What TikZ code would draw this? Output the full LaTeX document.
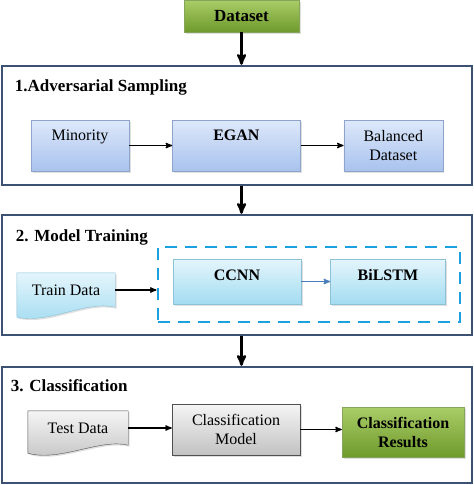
\documentclass[tikz,border=0pt]{standalone}
\usepackage{fontspec}
\setmainfont{Liberation Serif}
\usetikzlibrary{positioning}
\usetikzlibrary{arrows}
\usetikzlibrary{shadows}
\usetikzlibrary{backgrounds}

\definecolor{panelbd}{HTML}{3D5273}
\definecolor{bluetop}{HTML}{DDE8FA}
\definecolor{bluebot}{HTML}{A9C3EE}
\definecolor{bluebd}{HTML}{8EA4CA}
\definecolor{cyantop}{HTML}{E4F5FC}
\definecolor{cyanbot}{HTML}{A3DCF1}
\definecolor{cyanbd}{HTML}{8CC2D8}
\definecolor{graytop}{HTML}{F5F5F5}
\definecolor{graybot}{HTML}{C2C2C2}
\definecolor{graybd}{HTML}{505050}
\definecolor{greentop}{HTML}{AACD68}
\definecolor{greenbot}{HTML}{6E9A2B}
\definecolor{greenbd}{HTML}{86A55A}
\definecolor{dashblue}{HTML}{1BA1E2}
\definecolor{linkblue}{HTML}{4A7EBB}

\begin{document}
\begin{tikzpicture}[x=1pt,y=-1pt,>=stealth',
    shade box/.style={drop shadow={shadow xshift=1.5pt,shadow yshift=-1.5pt,opacity=0.25}},
    panel/.style={draw=panelbd,line width=2.5pt,minimum width=470pt},
    ttl/.style={anchor=west,inner sep=0pt,font=\fontsize{17}{20}\selectfont\bfseries},
    box/.style={shade box,draw=bluebd,top color=bluetop,bottom color=bluebot,
                minimum height=51pt,align=center,font=\fontsize{16}{19}\selectfont},
    cbox/.style={box,draw=cyanbd,top color=cyantop,bottom color=cyanbot,minimum height=45pt},
    gbox/.style={box,draw=graybd,top color=graytop,bottom color=graybot},
    resbox/.style={box,draw=greenbd,top color=greentop,bottom color=greenbot,
                font=\fontsize{16}{19}\selectfont\bfseries},
    docbox/.style={minimum height=34pt,font=\fontsize{16}{19}\selectfont},
    dashbox/.style={draw=dashblue,line width=2.8pt,dash pattern=on 12pt off 8pt},
    bigarrow/.style={->,line width=2.5pt},
    link/.style={->,line width=1.3pt}]

  \useasboundingbox (0,0) rectangle (474,485);
  \begin{scope}[on background layer]
    \fill[white] (0,0) rectangle (474,485);
  \end{scope}

  % input
  \node[resbox,minimum width=115pt,minimum height=32pt,font=\fontsize{17}{20}\selectfont\bfseries]
    (dataset) at (241.5,16) {Dataset};

  % the three stages
  \node[panel,minimum height=119pt] (adv) at (237,125.5) {};
  \node[panel,minimum height=120pt] (train) at (237,275) {};
  \node[panel,minimum height=116pt] (cls) at (237,425) {};
  \node[ttl] (advtitle) at ([xshift=14pt,yshift=-23pt]adv.north west) {1.Adversarial Sampling};
  \node[ttl] (traintitle) at ([xshift=15pt,yshift=-24pt]train.north west) {2. Model Training};
  \node[ttl] (clstitle) at ([xshift=10pt,yshift=-20pt]cls.north west) {3. Classification};

  % stage 1
  \node[box,minimum width=98pt,text depth=20pt] (minority) at (80,145.5) {Minority};
  \node[box,minimum width=128pt,text depth=20pt,right=43pt of minority] (egan) {\bfseries EGAN};
  \node[box,minimum width=99pt,right=43pt of egan] (balanced) {Balanced\\Dataset};

  % stage 2
  \node[docbox,minimum width=98pt] (traindata) at (66,290) {Train Data};
  \node[dashbox,minimum width=302pt,minimum height=75pt] (trainmodel) at (309,284.5) {};
  \node[cbox,minimum width=128pt,text depth=13pt] (ccnn) at (237,281.5) {\bfseries CCNN};
  \node[cbox,minimum width=115pt,text depth=13pt,right=29pt of ccnn] (bilstm) {\bfseries BiLSTM};

  % stage 3
  \node[docbox,minimum width=100pt] (testdata) at (78,428) {Test Data};
  \node[gbox,minimum width=128pt] (clsmodel) at (236,429.5) {Classification\\Model};
  \node[resbox,minimum width=122pt,minimum height=50pt] (results) at (403,432) {Classification\\Results};

  % document shapes behind the data nodes
  \begin{scope}[on background layer]
    \draw[shade box,draw=cyanbd,top color=cyantop,bottom color=cyanbot]
      (traindata.north west) -- (traindata.north east) -- (traindata.south east)
      .. controls +(-30,-7) and +(33,7) .. ([yshift=-10pt]traindata.south west) -- cycle;
    \draw[shade box,draw=graybd,top color=graytop,bottom color=graybot]
      (testdata.north west) -- (testdata.north east) -- (testdata.south east)
      .. controls +(-28,-7) and +(32,9) .. ([yshift=-8pt]testdata.south west) -- cycle;
  \end{scope}

  % flow
  \draw[bigarrow] (dataset.south) -- (dataset.south |- adv.north);
  \draw[bigarrow] (adv.south -| dataset.south) -- (train.north -| dataset.south);
  \draw[bigarrow] (train.south -| dataset.south) -- (cls.north -| dataset.south);

  \draw[link] (minority) -- (egan);
  \draw[link] (egan) -- (balanced);
  \draw[link] (traindata.east) -- (traindata.east -| trainmodel.west);
  \draw[link,linkblue] (ccnn) -- (bilstm);
  \draw[link] (testdata.east) -- (testdata.east -| clsmodel.west);
  \draw[link] (clsmodel.east) -- (clsmodel.east -| results.west);

\end{tikzpicture}
\end{document}
